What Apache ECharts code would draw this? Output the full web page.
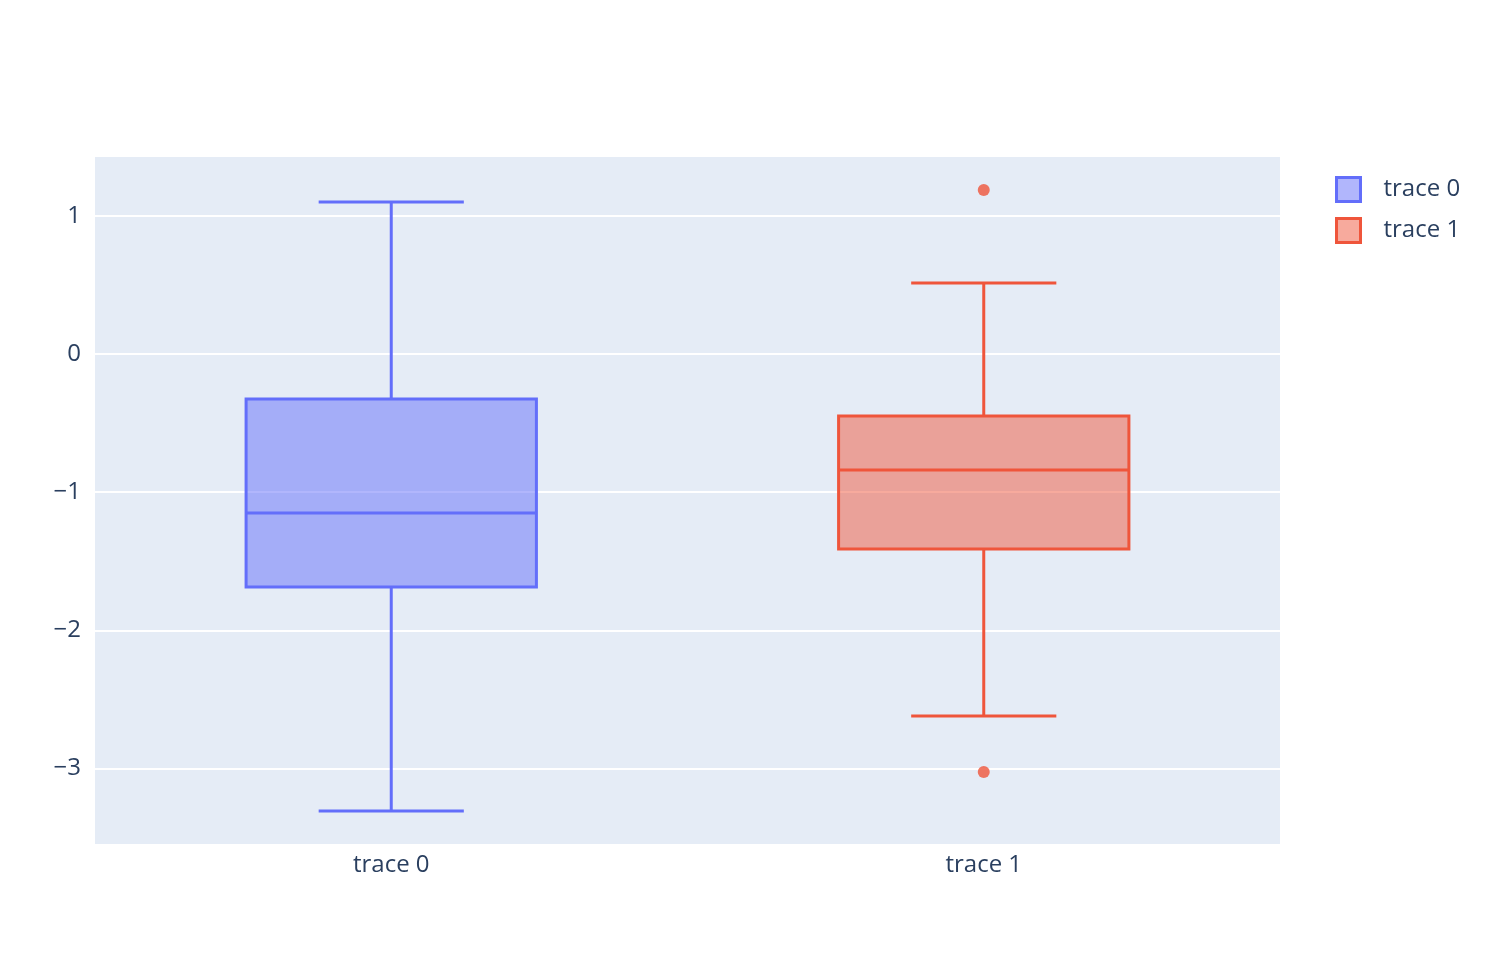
<!DOCTYPE html>
<html>
<head>
<meta charset="utf-8">
<script src="https://cdn.jsdelivr.net/npm/echarts@6/dist/echarts.min.js"></script>
<style>html,body{margin:0;padding:0;background:#fff}#main{width:1512px;height:966px}</style>
</head>
<body>
<div id="main"></div>
<script>
const categories = ["trace 0", "trace 1"];
// [min, Q1, median, Q3, max]
const trace0Box = [-3.307, -1.686, -1.15, -0.326, 1.10];
const trace1Box = [-2.619, -1.411, -0.839, -0.449, 0.514];
const trace1Outliers = [1.187, -3.025];

const font = "Open Sans, Noto Sans, sans-serif";
const txt = "#2a3f5f";
const fs = 24;

var myChart = echarts.init(document.getElementById("main"));

// box with whisker caps half the box width, like plotly
function renderBox(params, api) {
  var x = api.value(0);
  var lo = api.coord([x, api.value(1)]);
  var q1 = api.coord([x, api.value(2)]);
  var md = api.coord([x, api.value(3)]);
  var q3 = api.coord([x, api.value(4)]);
  var hi = api.coord([x, api.value(5)]);
  var bw = api.size([1, 0])[0] * 0.49;
  var cx = lo[0];
  var st = api.style();
  var line = { stroke: st.stroke, lineWidth: 3, fill: null };
  return {
    type: "group",
    children: [
      { type: "line", shape: { x1: cx, y1: hi[1], x2: cx, y2: q3[1] }, style: line },
      { type: "line", shape: { x1: cx, y1: q1[1], x2: cx, y2: lo[1] }, style: line },
      { type: "line", shape: { x1: cx - bw / 4, y1: hi[1], x2: cx + bw / 4, y2: hi[1] }, style: line },
      { type: "line", shape: { x1: cx - bw / 4, y1: lo[1], x2: cx + bw / 4, y2: lo[1] }, style: line },
      { type: "rect", shape: { x: cx - bw / 2, y: q3[1], width: bw, height: q1[1] - q3[1] },
        style: { fill: st.fill, stroke: st.stroke, lineWidth: 3 } },
      { type: "line", shape: { x1: cx - bw / 2, y1: md[1], x2: cx + bw / 2, y2: md[1] }, style: line },
    ],
  };
}

var option = {
  animation: false,
  grid: {
    left: 95, right: 232, top: 156, bottom: 121,
    show: true, backgroundColor: "#e5ecf6", borderWidth: 0,
  },
  legend: {
    orient: "vertical",
    left: 1330, top: 171,
    itemWidth: 24, itemHeight: 24, itemGap: 14,
    textStyle: { color: txt, fontSize: fs, fontFamily: font, padding: [0, 0, 0, 18] },
    data: [
      { name: "trace 0", icon: "rect", itemStyle: { color: "rgba(99,110,250,0.5)", borderColor: "#636efa", borderWidth: 3 } },
      { name: "trace 1", icon: "rect", itemStyle: { color: "rgba(239,85,59,0.5)", borderColor: "#EF553B", borderWidth: 3 } },
    ],
  },
  xAxis: {
    type: "category",
    data: categories,
    axisLine: { show: false },
    axisTick: { show: false },
    splitLine: { show: false },
    axisLabel: { color: txt, fontSize: fs, fontFamily: font, margin: 8 },
  },
  yAxis: {
    type: "value",
    min: -3.553, max: 1.433, splitNumber: 5,
    axisLine: { show: false },
    axisTick: { show: false },
    splitLine: { lineStyle: { color: "#fff", width: 2 } },
    axisLabel: {
      color: txt, fontSize: fs, fontFamily: font, margin: 14,
      formatter: function (v) {
        if (Math.abs(v - Math.round(v)) > 1e-6) return "";
        var r = Math.round(v);
        return r < 0 ? "\u2212" + Math.abs(r) : String(r);
      },
    },
  },
  series: [
    {
      name: "trace 0", type: "custom", renderItem: renderBox,
      itemStyle: { color: "rgba(99,110,250,0.5)", borderColor: "#636efa" },
      encode: { x: 0, y: [1, 2, 3, 4, 5] },
      data: [[0].concat(trace0Box)],
    },
    {
      name: "trace 1", type: "custom", renderItem: renderBox,
      itemStyle: { color: "rgba(239,85,59,0.5)", borderColor: "#EF553B" },
      encode: { x: 0, y: [1, 2, 3, 4, 5] },
      data: [[1].concat(trace1Box)],
    },
    {
      name: "trace 1", type: "scatter",
      symbolSize: 12,
      itemStyle: { color: "#EF553B" },
      data: trace1Outliers.map(function (v) { return [1, v]; }),
    },
  ],
};

myChart.setOption(option);
</script>
</body>
</html>
